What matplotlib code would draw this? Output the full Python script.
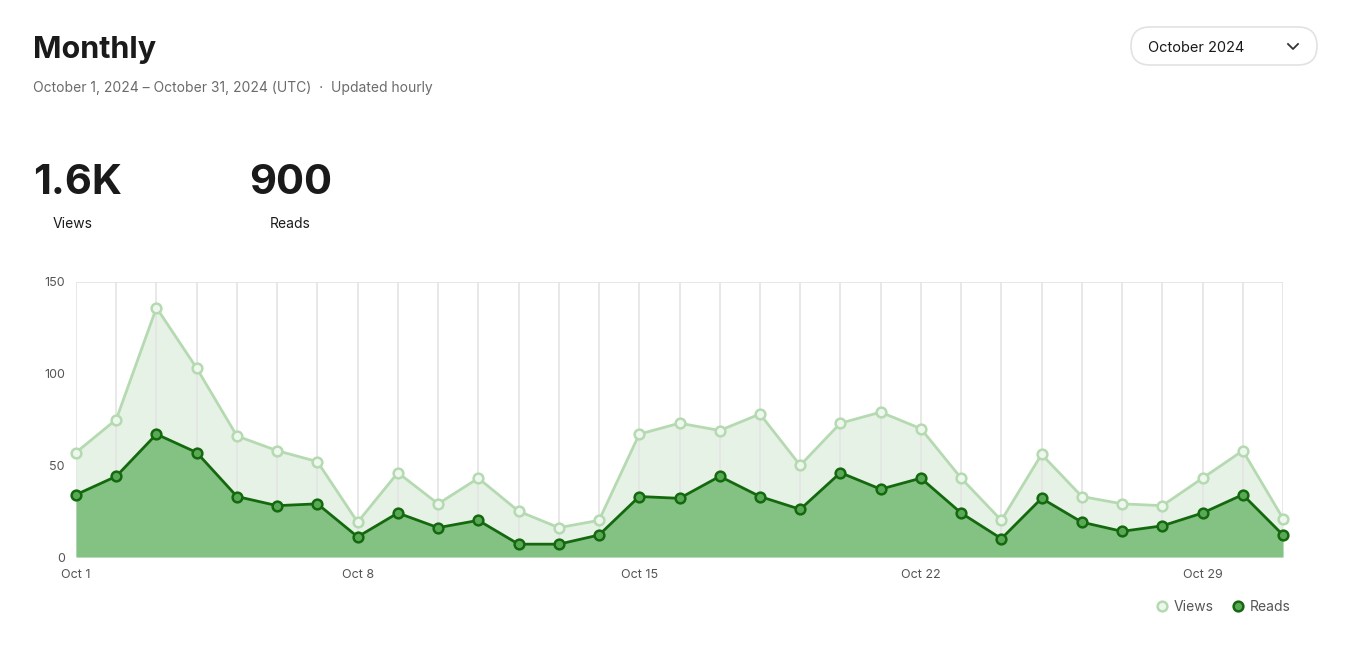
import matplotlib
matplotlib.use("Agg")
import matplotlib.pyplot as plt
import numpy as np
from matplotlib.patches import FancyBboxPatch
from matplotlib.lines import Line2D

days = list(range(1, 32))
views = [57, 75, 136, 103, 66, 58, 52, 19, 46, 29, 43, 25, 16, 20, 67, 73,
         69, 78, 50, 73, 79, 70, 43, 20, 56, 33, 29, 28, 43, 58, 21]
reads = [34, 44, 67, 57, 33, 28, 29, 11, 24, 16, 20, 7, 7, 12, 33, 32,
         44, 33, 26, 46, 37, 43, 24, 10, 32, 19, 14, 17, 24, 34, 12]
tick_days = [1, 8, 15, 22, 29]
tick_labels = ["Oct 1", "Oct 8", "Oct 15", "Oct 22", "Oct 29"]
y_ticks = [0, 50, 100, 150]

plt.rcParams['font.family'] = ['Inter', 'DejaVu Sans']

fig = plt.figure(figsize=(13.58, 6.51), dpi=100)

# overlay in pixel coordinates for header elements
ov = fig.add_axes([0, 0, 1, 1], zorder=-1)
ov.set_xlim(0, 1358)
ov.set_ylim(651, 0)
ov.axis("off")

ax = fig.add_axes([76 / 1358, 94 / 651, 1207 / 1358, 275 / 651])

light_line = "#b5dab1"
light_fill = "#e6f2e5"
dark_line = "#14690f"
dark_fill = "#84c283"

ax.fill_between(days, 0, views, color=light_fill, lw=0, zorder=1)
ax.fill_between(days, 0, reads, color=dark_fill, lw=0, zorder=2)
ax.plot(days, views, color=light_line, lw=2, marker="o", ms=7,
        mfc="#eef7ed", mec=light_line, mew=1.8, zorder=4, clip_on=False)
ax.plot(days, reads, color=dark_line, lw=2, marker="o", ms=7,
        mfc="#5aa957", mec=dark_line, mew=1.8, zorder=5, clip_on=False)

ax.set_xlim(1, 31)
ax.set_ylim(0, 150)
ax.set_xticks(days, minor=True)
ax.set_xticks(tick_days)
ax.set_xticklabels(tick_labels)
ax.set_yticks(y_ticks)
ax.grid(axis="x", which="both", color="#e4e4e4", lw=1.2, zorder=0)
ax.axhline(150, color="#e4e4e4", lw=1.2, zorder=0)
for s in ax.spines.values():
    s.set_visible(False)
ax.tick_params(axis="both", which="both", length=0, labelsize=9,
               labelcolor="#555555")
ax.tick_params(axis="x", pad=9)
ax.tick_params(axis="y", pad=8)

handles = [
    Line2D([], [], lw=0, marker="o", ms=7, mfc="#eef7ed", mec=light_line, mew=1.8),
    Line2D([], [], lw=0, marker="o", ms=7, mfc="#5aa957", mec=dark_line, mew=1.8),
]
ax.legend(handles, ["Views", "Reads"], loc="upper right",
          bbox_to_anchor=(1.017, -0.11), ncol=2, frameon=False,
          handletextpad=0.35, columnspacing=1.3, handlelength=1,
          prop={"size": 10}, labelcolor="#555555")

# header texts
ov.text(33, 50, "Monthly", fontsize=22, fontweight="bold",
        color="#1a1a1a", va="center", ha="left")
ov.text(33, 88,
        "October 1, 2024 \u2013 October 31, 2024 (UTC)  \u00b7  Updated hourly",
        fontsize=10, color="#6b6b6b", va="center", ha="left")
ov.text(33, 183, "1.6K", fontsize=30, fontweight="bold",
        color="#1a1a1a", va="center", ha="left")
ov.text(73, 224, "Views", fontsize=10, color="#1a1a1a",
        va="center", ha="center")
ov.text(249, 183, "900", fontsize=30, fontweight="bold",
        color="#1a1a1a", va="center", ha="left")
ov.text(290, 224, "Reads", fontsize=10, color="#1a1a1a",
        va="center", ha="center")

# dropdown
box = FancyBboxPatch((1131, 27), 186, 38,
                     boxstyle="round,pad=0,rounding_size=19",
                     fc="white", ec="#e2e2e2", lw=1.2)
ov.add_patch(box)
ov.text(1148, 48, "October 2024", fontsize=10.5,
        color="#1a1a1a", va="center", ha="left")
ov.plot([1288, 1293, 1298], [44, 49, 44], color="#333333", lw=1.3)

fig.savefig("out.png", dpi=100, facecolor="white")
